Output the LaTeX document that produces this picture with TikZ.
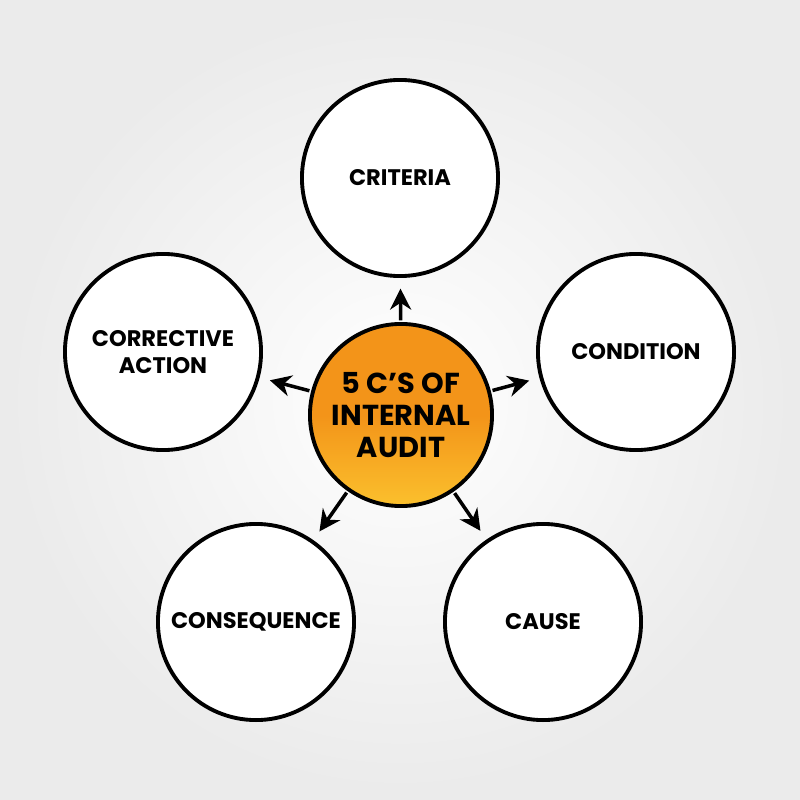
\documentclass[tikz,border=0pt]{standalone}
\usepackage{fontspec}
\setmainfont{Poppins}[BoldFont={* Bold}]
\usetikzlibrary{arrows.meta}
\definecolor{orgA}{HTML}{F39419}
\definecolor{orgB}{HTML}{FBC02D}
\begin{document}
\begin{tikzpicture}[x=0.01cm,y=-0.01cm,
  item/.style={circle,draw=black,line width=1.1pt,fill=white,minimum size=1.96cm,inner sep=0pt,align=center,font=\fontsize{6.4}{7.6}\selectfont\bfseries},
  hub/.style={circle,draw=black,line width=1.1pt,top color=orgA,bottom color=orgB,middle color=orgA,minimum size=1.82cm,inner sep=0pt,align=center,font=\fontsize{8.2}{9.2}\selectfont\bfseries},
  arr/.style={-{Stealth[length=6pt,width=6pt]},line width=1pt,shorten <=0.5pt,shorten >=3pt}]
\shade[inner color=white,outer color=black!8] (0,0) rectangle (800,800);
\useasboundingbox (0,0) rectangle (800,800);
\node[hub] (c) at (401,415) {5 C'S OF\\INTERNAL\\AUDIT};
\node[item] (crit) at (400,178) {CRITERIA};
\node[item] (cond) at (636,352) {CONDITION};
\node[item] (corr) at (163,352) {CORRECTIVE\\ACTION};
\node[item] (cons) at (256,622) {CONSEQUENCE};
\node[item] (cause) at (543,622) {CAUSE};
\foreach \t in {crit,cond,corr,cons,cause} \draw[arr] (c) -- (\t);
\end{tikzpicture}
\end{document}
